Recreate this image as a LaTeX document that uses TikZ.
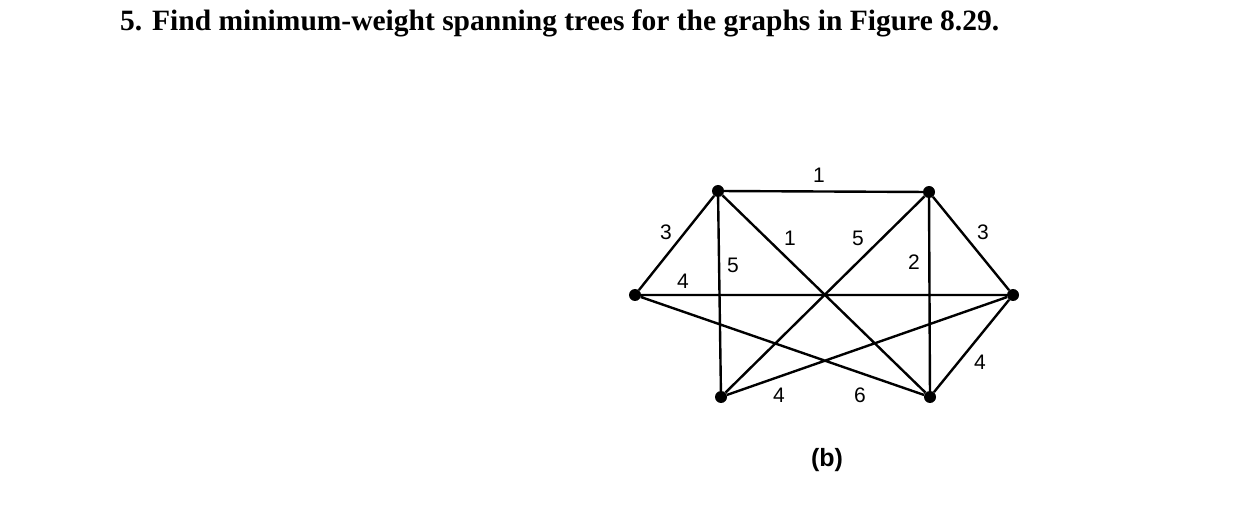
\documentclass[tikz,border=0pt]{standalone}
\usepackage{fontspec}
\setmainfont{Liberation Serif}
\newfontfamily\labsans{Liberation Sans}
\begin{document}
\begin{tikzpicture}[x=1pt,y=-1pt,
  vtx/.style={circle,fill=black,inner sep=0pt,minimum size=12pt},
  edge/.style={line width=2.4pt},
  wt/.style={font=\labsans\fontsize{21}{23}\selectfont,inner sep=1pt}]
\useasboundingbox (0,0) rectangle (1254,505);
\node[anchor=base west,inner sep=0pt,font=\bfseries\fontsize{29.5}{32}\selectfont] (title) at (120,31) {5. Find minimum-weight spanning trees for the graphs in Figure 8.29.};
\node[vtx] (A) at (718,191) {};
\node[vtx] (B) at (929,192) {};
\node[vtx] (L) at (635,295) {};
\node[vtx] (R) at (1013,295) {};
\node[vtx] (C) at (721,397) {};
\node[vtx] (D) at (930,397) {};
\draw[edge] (A)--(B) (L)--(A) (L)--(R) (A)--(C) (A)--(D) (B)--(C) (B)--(D) (B)--(R) (R)--(D) (L)--(D) (C)--(R);
\node[wt] (w1) at (819,175) {1};
\node[wt] (w2) at (666,232) {3};
\node[wt] (w3) at (683,281) {4};
\node[wt] (w4) at (733,265) {5};
\node[wt] (w5) at (790,238) {1};
\node[wt] (w6) at (858,238) {5};
\node[wt] (w7) at (914,262) {2};
\node[wt] (w8) at (983,232) {3};
\node[wt] (w9) at (980,362) {4};
\node[wt] (w10) at (779,395) {4};
\node[wt] (w11) at (860,395) {6};
\node[font=\labsans\bfseries\fontsize{25}{27}\selectfont] (cap) at (827,460) {(b)};
\end{tikzpicture}
\end{document}
